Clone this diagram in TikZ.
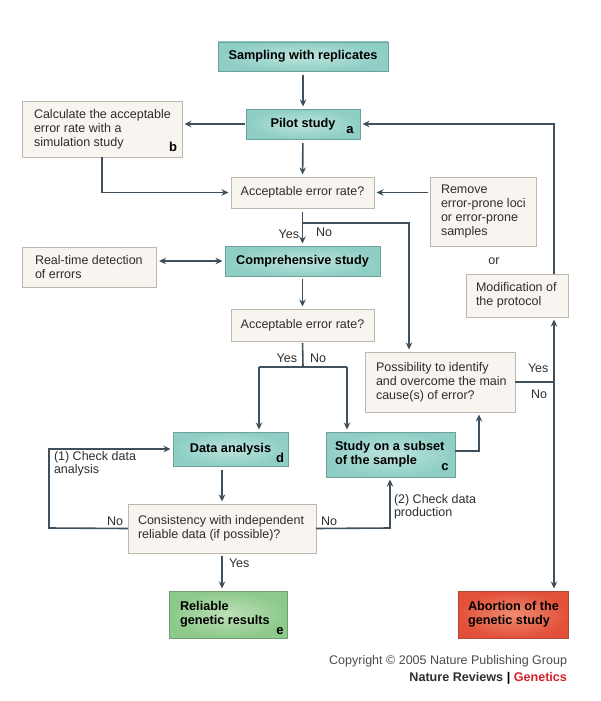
\documentclass[tikz,border=0pt]{standalone}
\usepackage{fontspec}
\setmainfont{Liberation Sans}
\usetikzlibrary{arrows.meta}
\definecolor{lnc}{HTML}{3F505C}
\definecolor{tealo}{HTML}{8ECEC4}
\definecolor{teali}{HTML}{BCE4DD}
\definecolor{tealb}{HTML}{6E9F98}
\definecolor{beigef}{HTML}{F8F4EF}
\definecolor{beigeb}{HTML}{BDB7AE}
\definecolor{greeno}{HTML}{8CC98A}
\definecolor{greeni}{HTML}{BEE0B8}
\definecolor{greenb}{HTML}{6F9F6C}
\definecolor{redo}{HTML}{E2503A}
\definecolor{redi}{HTML}{F08C72}
\definecolor{redb}{HTML}{B04A38}
\definecolor{txt}{HTML}{2E2E2E}
\definecolor{gen}{HTML}{D8202B}
\begin{document}
\begin{tikzpicture}[x=1pt,y=-1pt,
  every node/.style={inner sep=0pt, outer sep=0pt, text=txt},
  reg/.style={font=\fontsize{12.5}{13.8}\selectfont},
  bld/.style={font=\bfseries\fontsize{12.7}{14}\selectfont},
  tealbox/.style={draw=tealb, line width=0.8pt, inner color=teali, outer color=tealo, bld, text=black},
  beigebox/.style={draw=beigeb, line width=0.8pt, fill=beigef, reg},
  greenbox/.style={draw=greenb, line width=0.8pt, inner color=greeni, outer color=greeno, bld, text=black},
  redbox/.style={draw=redb, line width=0.8pt, inner color=redi, outer color=redo, bld, text=black},
  ltext/.style={anchor=west, xshift=#1pt, align=left, reg, text=txt},
  btext/.style={anchor=west, xshift=#1pt, align=left, bld, text=black},
  tag/.style={font=\bfseries\fontsize{13}{13}\selectfont, text=black},
  lbl/.style={reg},
  conn/.style={draw=lnc, line width=1.6pt, -{Stealth[length=7pt,width=6.5pt]}, shorten >=2.5pt},
  conn2/.style={draw=lnc, line width=1.6pt, {Stealth[length=7pt,width=6.5pt]}-{Stealth[length=7pt,width=6.5pt]}, shorten >=2.5pt, shorten <=3pt},
  plain/.style={draw=lnc, line width=1.6pt}
]
\useasboundingbox[fill=white] (0,0) rectangle (600,701);

% boxes
\node[tealbox, minimum width=170pt, minimum height=29pt] (samp) at (303,56.5) {Sampling with replicates};
\node[tealbox, minimum width=114pt, minimum height=30pt] (pilot) at (303,124) {Pilot study};
\node[beigebox, minimum width=160pt, minimum height=56pt, label={[ltext=12]west:{Calculate the acceptable\\error rate with a\\simulation study}}] (calc) at (102,129) {};
\node[beigebox, minimum width=143pt, minimum height=31pt] (acc1) at (302.5,192.5) {Acceptable error rate?};
\node[beigebox, minimum width=106pt, minimum height=69pt, label={[ltext=11]west:{Remove\\error-prone loci\\or error-prone\\samples}}] (remove) at (483,211.5) {};
\node[beigebox, minimum width=134pt, minimum height=40pt, label={[ltext=13]west:{Real-time detection\\of errors}}] (rt) at (89,267) {};
\node[tealbox, minimum width=155pt, minimum height=30pt] (comp) at (302.5,261) {Comprehensive study};
\node[beigebox, minimum width=102pt, minimum height=43pt, label={[ltext=10]west:{Modification of\\the protocol}}] (modif) at (517,295.5) {};
\node[beigebox, minimum width=143pt, minimum height=32pt] (acc2) at (302.5,325) {Acceptable error rate?};
\node[beigebox, minimum width=150pt, minimum height=60pt, label={[ltext=11]west:{Possibility to identify\\and overcome the main\\cause(s) of error?}}] (poss) at (440,382) {};
\node[tealbox, minimum width=115pt, minimum height=34pt] (data) at (230.5,449) {Data analysis\hspace{6pt}};
\node[tealbox, minimum width=129pt, minimum height=45pt, label={[btext=9]west:{Study on a subset\\of the sample}}] (sub) at (390.5,454.5) {};
\node[beigebox, minimum width=188pt, minimum height=49pt, label={[ltext=10]west:{Consistency with independent\\reliable data (if possible)?}}] (cons) at (222,528.5) {};
\node[greenbox, minimum width=118pt, minimum height=47pt, label={[btext=11]west:{Reliable\\genetic results}}] (rel) at (228,614.5) {};
\node[redbox, minimum width=110pt, minimum height=47pt, label={[btext=10]west:{Abortion of the\\genetic study}}] (abort) at (513,614.5) {};

% tags
\node[tag] (ta) at (350,130) {a};
\node[tag] (tb) at (173,147) {b};
\node[tag] (tc) at (445,467) {c};
\node[tag] (td) at (280,458) {d};
\node[tag] (te) at (280,631) {e};

% junction coordinates
\coordinate (b1) at (303,223);
\coordinate (b1r) at (409,223);
\coordinate (jr) at (554,382);
\coordinate (b2) at (303,367);
\coordinate (b2l) at (259,367);
\coordinate (b2r) at (347,367);
\coordinate (sr) at (479,451);
\coordinate (ll) at (49,528);
\coordinate (rl) at (390,528);

% connectors
\draw[conn, shorten <=4pt] (samp) -- (pilot);
\draw[conn, shorten <=1.5pt] (pilot.west) -- (pilot.west -| calc.east);
\draw[conn] (calc.south) |- (acc1.west);
\draw[conn, shorten <=2.5pt] (remove.west |- acc1.east) -- (acc1.east);
\draw[conn, shorten <=4pt] (pilot) -- (acc1);
\draw[conn, shorten <=4pt] (acc1) -- (comp);
\draw[conn] (b1) -- (b1r) -- (b1r |- poss.north);
\draw[plain] (poss.east |- jr) -- (jr);
\draw[conn] (jr) -- (jr |- modif.south);
\draw[conn] (jr) -- (jr |- abort.north);
\draw[conn] (jr |- modif.north) |- (pilot.east);
\draw[conn2] (rt.east |- comp.west) -- (comp.west);
\draw[conn, shorten <=3pt] (comp) -- (acc2);
\draw[plain, shorten <=2pt] (acc2.south) -- (b2);
\draw[plain] (b2l) -- (b2r);
\draw[conn] (b2l) -- (b2l |- data.north);
\draw[conn] (b2r) -- (b2r |- sub.north);
\draw[conn] (sub.east |- sr) -- (sr) -- (sr |- poss.south);
\draw[conn, shorten <=4pt] (cons.north |- data.south) -- (cons.north);
\draw[conn, shorten <=3pt] (cons.south) -- (cons.south |- rel.north);
\draw[conn] (cons.west) -- (ll) |- (data.west);
\draw[conn] (cons.east) -- (rl) -- (rl |- sub.south);

% labels
\node[lbl, anchor=east] (y1) at (299,234) {Yes};
\node[lbl, anchor=west] (n1) at (316,232) {No};
\node[lbl] (or) at (494,261) {or};
\node[lbl, anchor=east] (y2) at (297,358) {Yes};
\node[lbl, anchor=west] (n2) at (310,358) {No};
\node[lbl, anchor=west] (y3) at (528,368) {Yes};
\node[lbl, anchor=west] (n3) at (531,394) {No};
\node[lbl, anchor=north west, align=left] (ck1) at (54,451) {(1) Check data\\analysis};
\node[lbl, anchor=east] (n4) at (123,521) {No};
\node[lbl, anchor=west] (n5) at (321,521) {No};
\node[lbl, anchor=north west, align=left] (ck2) at (394,494) {(2) Check data\\production};
\node[lbl, anchor=west] (y4) at (229,563) {Yes};

% credits
\node[font=\fontsize{12.5}{13}\selectfont, text=black!70, anchor=east] (copy) at (567,661) {Copyright © 2005 Nature Publishing Group};
\node[font=\bfseries\fontsize{12.6}{13}\selectfont, anchor=east] (nrg) at (567,678) {Nature Reviews \textcolor{black}{|} \textcolor{gen}{Genetics}};
\end{tikzpicture}
\end{document}
